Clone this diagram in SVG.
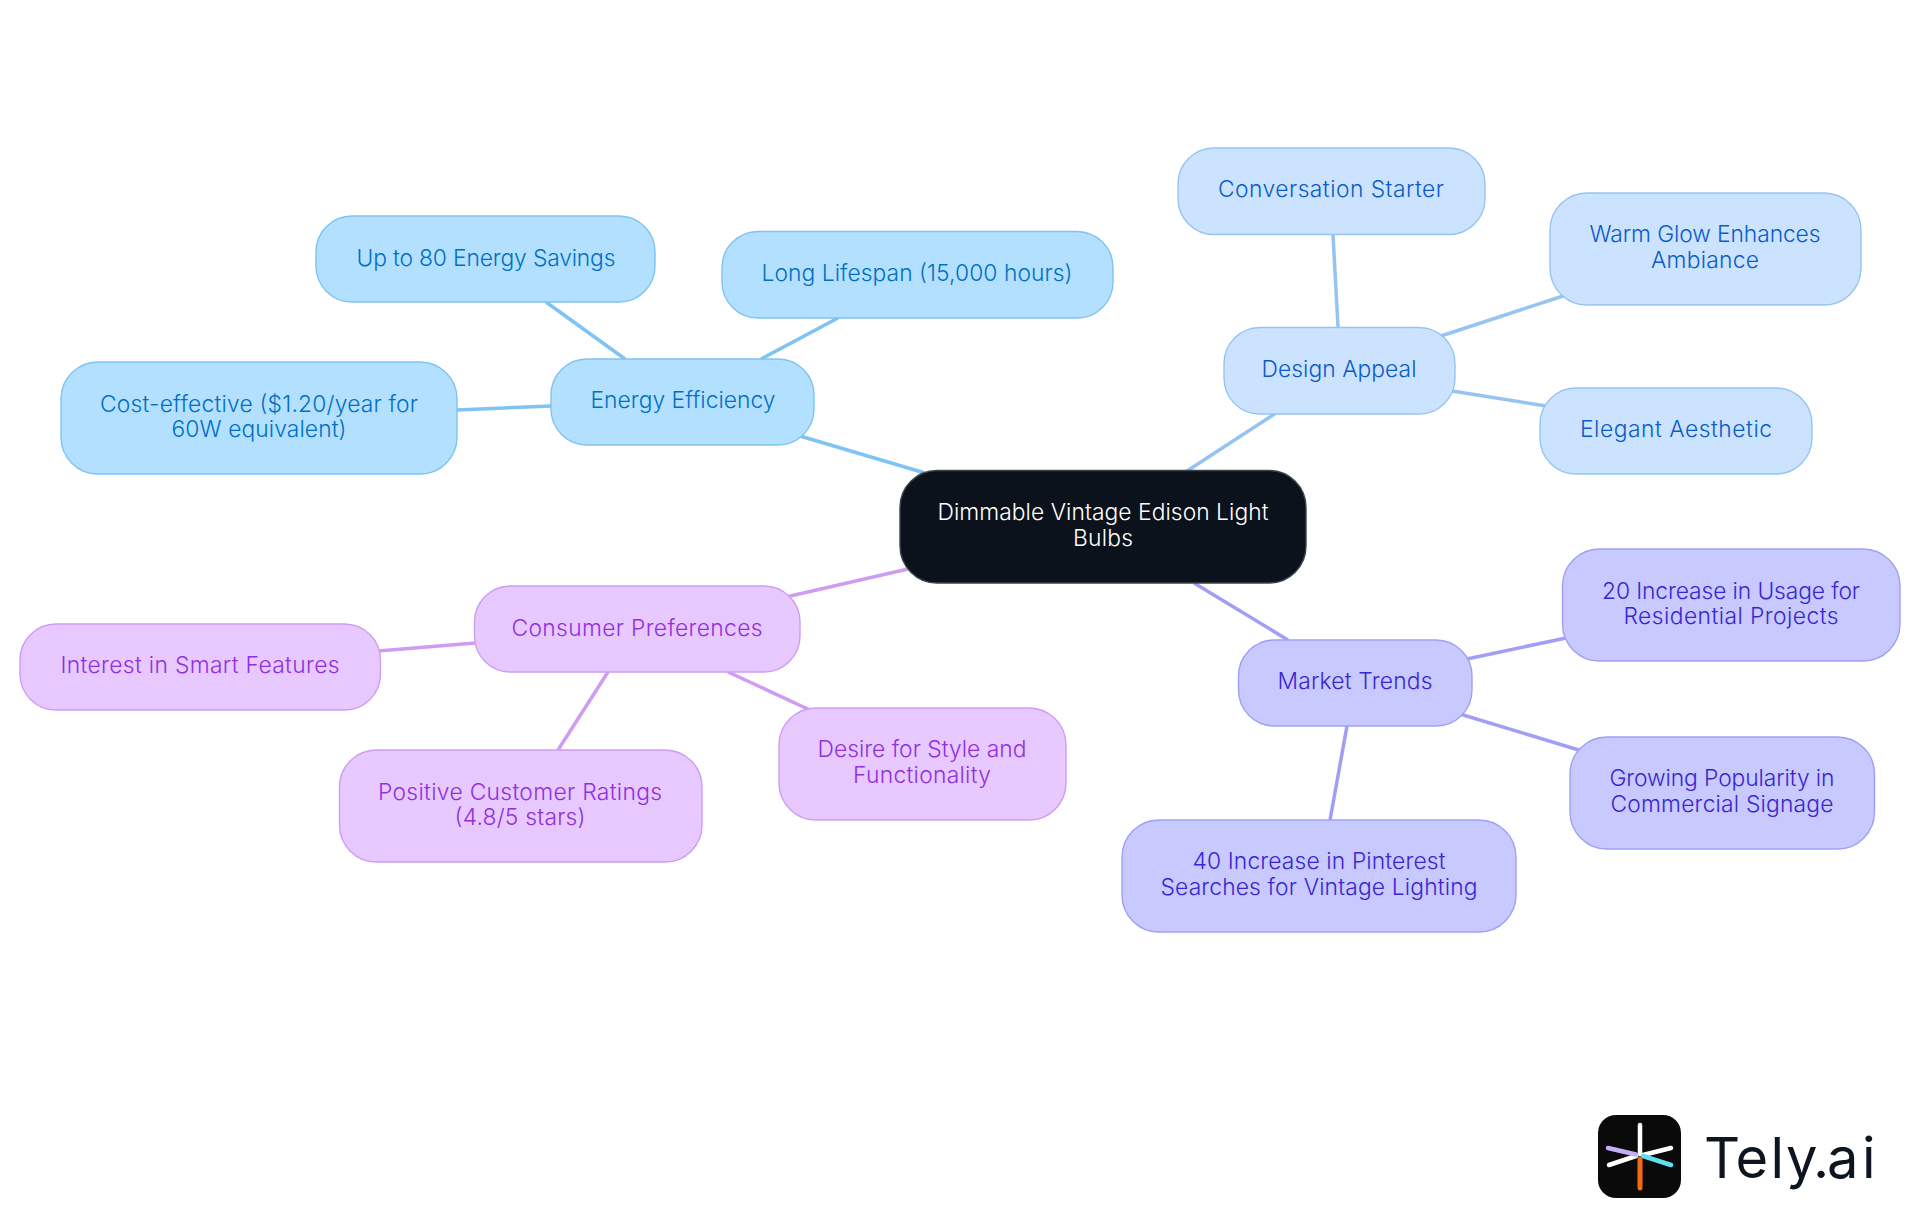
<svg xmlns="http://www.w3.org/2000/svg" width="1920" height="1215" viewBox="0 0 1920 1215">
<style>
text{font-family:"Inter","Noto Sans","Liberation Sans",sans-serif;font-size:22.8px;text-anchor:middle;font-weight:350}
rect{stroke-width:1.4}
.l{fill:none;stroke-width:3.5;stroke-linecap:butt}
.root rect{fill:#0b121b;stroke:#3d434b}.root text{fill:#fff}
.e rect{fill:#b3e0ff;stroke:#7dc3f3}.e text{fill:#0070c4}
.d rect{fill:#cce3ff;stroke:#96c4f2}.d text{fill:#0b5cc8}
.m rect{fill:#c7c9ff;stroke:#a09ff5}.m text{fill:#3a26d0}
.c rect{fill:#e7c9ff;stroke:#cf9cf3}.c text{fill:#9030e0}
</style>
<rect width="1920" height="1215" fill="#fff" style="stroke:none"/>
<g id="connectors">
<path class="l" stroke="#7dc3f3" d="M925 473L800 436M625 359L546 302M761 359L838 318M551 406L457 410"/>
<path class="l" stroke="#96c4f2" d="M1187 471L1276 413M1338 327L1333 235M1441 336L1566 295M1452 391L1546 406"/>
<path class="l" stroke="#a09ff5" d="M1194 583L1288 640M1467 659L1566 638M1460 714L1582 751M1347 726L1330 820"/>
<path class="l" stroke="#cf9cf3" d="M908 569L786 597M475 643L378 651M608 672L558 750M728 672L810 710"/>
</g>
<g id="root" class="root"><rect x="900" y="470.500" width="406" height="112.500" rx="37"/><text x="1103" y="520" textLength="331">Dimmable Vintage Edison Light</text><text x="1103" y="546" textLength="60">Bulbs</text></g>
<g id="energy" class="e"><rect x="551" y="359" width="263" height="86" rx="36"/><text x="683" y="408" textLength="185">Energy Efficiency</text></g>
<g id="savings" class="e"><rect x="316" y="216" width="339" height="86" rx="36"/><text x="486" y="266" textLength="259">Up to 80 Energy Savings</text></g>
<g id="lifespan" class="e"><rect x="722" y="231.500" width="391" height="86.500" rx="36"/><text x="917" y="281" textLength="311">Long Lifespan (15,000 hours)</text></g>
<g id="cost" class="e"><rect x="61" y="362" width="396" height="112" rx="37"/><text x="259" y="412" textLength="318">Cost-effective ($1.20/year for</text><text x="259" y="437" textLength="175">60W equivalent)</text></g>
<g id="design" class="d"><rect x="1224" y="327.500" width="231" height="86.500" rx="36"/><text x="1339" y="377" textLength="155">Design Appeal</text></g>
<g id="conversation" class="d"><rect x="1178" y="148" width="307" height="86.500" rx="36"/><text x="1331" y="197" textLength="226">Conversation Starter</text></g>
<g id="glow" class="d"><rect x="1550" y="193" width="311" height="112" rx="37"/><text x="1705" y="242" textLength="231">Warm Glow Enhances</text><text x="1705" y="268" textLength="108">Ambiance</text></g>
<g id="elegant" class="d"><rect x="1540" y="388" width="272" height="86" rx="36"/><text x="1676" y="437" textLength="192">Elegant Aesthetic</text></g>
<g id="market" class="m"><rect x="1238.500" y="640" width="233.500" height="86" rx="36"/><text x="1355" y="689" textLength="155">Market Trends</text></g>
<g id="usage" class="m"><rect x="1562.500" y="549" width="337.500" height="112" rx="37"/><text x="1731" y="599" textLength="258">20 Increase in Usage for</text><text x="1731" y="624" textLength="215">Residential Projects</text></g>
<g id="signage" class="m"><rect x="1570" y="737" width="304.500" height="112" rx="37"/><text x="1722" y="786" textLength="225">Growing Popularity in</text><text x="1722" y="812" textLength="223">Commercial Signage</text></g>
<g id="pinterest" class="m"><rect x="1122" y="820" width="394" height="112" rx="37"/><text x="1319" y="869" textLength="253">40 Increase in Pinterest</text><text x="1319" y="895" textLength="317">Searches for Vintage Lighting</text></g>
<g id="consumer" class="c"><rect x="474.500" y="586" width="325.500" height="86" rx="36"/><text x="637" y="636" textLength="251">Consumer Preferences</text></g>
<g id="smart" class="c"><rect x="20" y="624" width="360.500" height="86" rx="36"/><text x="200" y="673" textLength="279">Interest in Smart Features</text></g>
<g id="ratings" class="c"><rect x="339.500" y="750" width="362.500" height="112" rx="37"/><text x="520" y="800" textLength="284">Positive Customer Ratings</text><text x="520" y="825" textLength="131">(4.8/5 stars)</text></g>
<g id="style" class="c"><rect x="779" y="708" width="287" height="112" rx="37"/><text x="922" y="757" textLength="209">Desire for Style and</text><text x="922" y="783" textLength="138">Functionality</text></g>
<g id="logo">
<rect x="1598" y="1115" width="83" height="83" rx="18" fill="#0a0a0a" style="stroke:none"/>
<path d="M1640 1125V1154M1609 1165L1636 1156M1671 1148L1643 1155" stroke="#fff" stroke-width="4.500" stroke-linecap="round" fill="none"/>
<path d="M1608 1148L1636 1154.500" stroke="#c4aef5" stroke-width="4.500" stroke-linecap="round"/>
<path d="M1643 1156L1671 1165" stroke="#5ee0f0" stroke-width="4.500" stroke-linecap="round"/>
<path d="M1640 1159V1188" stroke="#f26a0f" stroke-width="5" stroke-linecap="round"/>
<text x="1704 1735.500 1770.500 1786 1813 1827 1862" y="1178" style="font-size:56px;text-anchor:start;fill:#0d1520;font-weight:400">Tely.ai</text>
</g>
</svg>
